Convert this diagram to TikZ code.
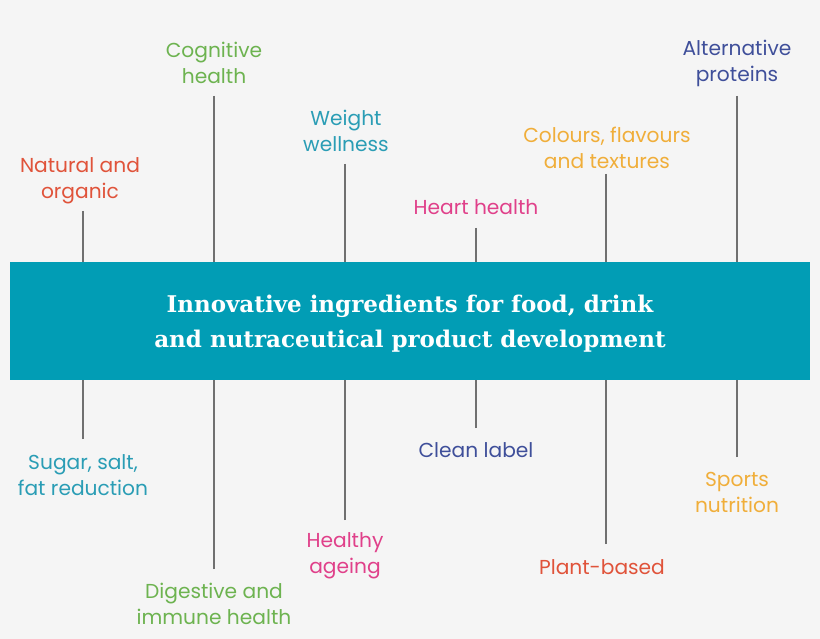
\documentclass[tikz,border=0pt]{standalone}
\usepackage{fontspec}
\setmainfont{Poppins}
\newfontfamily\corefont{DejaVu Serif}
\usetikzlibrary{positioning}
\definecolor{bgcol}{HTML}{F5F5F5}
\definecolor{bandcol}{HTML}{019DB5}
\definecolor{stemcol}{HTML}{707070}
\definecolor{redcol}{HTML}{E0533A}
\definecolor{greencol}{HTML}{6DB350}
\definecolor{tealcol}{HTML}{2A9DB5}
\definecolor{pinkcol}{HTML}{E0408A}
\definecolor{yellowcol}{HTML}{F0AE3A}
\definecolor{bluecol}{HTML}{3F4F9A}
\tikzset
{
    topic/.style = {align=center, font=\fontsize{20.2}{26}\selectfont, inner sep=0pt},
    stem/.style  = {draw=stemcol, line width=2pt},
    core/.style  = {rectangle, fill=bandcol, text=white, align=center, minimum width=800pt, minimum height=118pt, font=\corefont\bfseries\fontsize{23}{35}\selectfont}
}

\begin{document}
\begin{tikzpicture}[x=1pt, y=-1pt]
\useasboundingbox[fill=bgcol] (0,0) rectangle (820,639);
\node[core] (band) at (410,321) {};
\node[core, fill=none, minimum width=0pt, minimum height=0pt] (title) at (410,324) {Innovative ingredients for food, drink\\and nutraceutical product development};

% above the band
\node[topic, text=redcol] (natural) at (80,181) {Natural and\\organic};
\node[topic, text=greencol] (cognitive) at (214,63) {Cognitive\\health};
\node[topic, text=tealcol] (weight) at (346,131) {Weight\\wellness};
\node[topic, text=pinkcol] (heart) at (476,207) {Heart health};
\node[topic, text=yellowcol] (colours) at (607,148) {Colours, flavours\\and textures};
\node[topic, text=bluecol] (altprot) at (737,63) {Alternative\\proteins};

% below the band
\node[topic, text=tealcol] (sugar) at (83,475) {Sugar, salt,\\fat reduction};
\node[topic, text=greencol] (digestive) at (214,604) {Digestive and\\immune health};
\node[topic, text=pinkcol] (ageing) at (345,556) {Healthy\\ageing};
\node[topic, text=bluecol] (clean) at (476,450) {Clean label};
\node[topic, text=redcol] (plant) at (602,567) {Plant-based};
\node[topic, text=yellowcol] (sports) at (737,492) {Sports\\nutrition};

% stem ends
\coordinate (natural-end) at (83,211);
\coordinate (cognitive-end) at (214,96);
\coordinate (weight-end) at (345,164);
\coordinate (heart-end) at (476,228);
\coordinate (colours-end) at (606,174);
\coordinate (altprot-end) at (737,96);
\coordinate (sugar-end) at (83,439);
\coordinate (digestive-end) at (214,569);
\coordinate (ageing-end) at (345,520);
\coordinate (clean-end) at (476,428);
\coordinate (plant-end) at (606,544);
\coordinate (sports-end) at (737,457);

\draw[stem] (natural-end) -- (natural-end |- band.north);
\draw[stem] (cognitive-end) -- (cognitive-end |- band.north);
\draw[stem] (weight-end) -- (weight-end |- band.north);
\draw[stem] (heart-end) -- (heart-end |- band.north);
\draw[stem] (colours-end) -- (colours-end |- band.north);
\draw[stem] (altprot-end) -- (altprot-end |- band.north);
\draw[stem] (sugar-end) -- (sugar-end |- band.south);
\draw[stem] (digestive-end) -- (digestive-end |- band.south);
\draw[stem] (ageing-end) -- (ageing-end |- band.south);
\draw[stem] (clean-end) -- (clean-end |- band.south);
\draw[stem] (plant-end) -- (plant-end |- band.south);
\draw[stem] (sports-end) -- (sports-end |- band.south);
\end{tikzpicture}
\end{document}
